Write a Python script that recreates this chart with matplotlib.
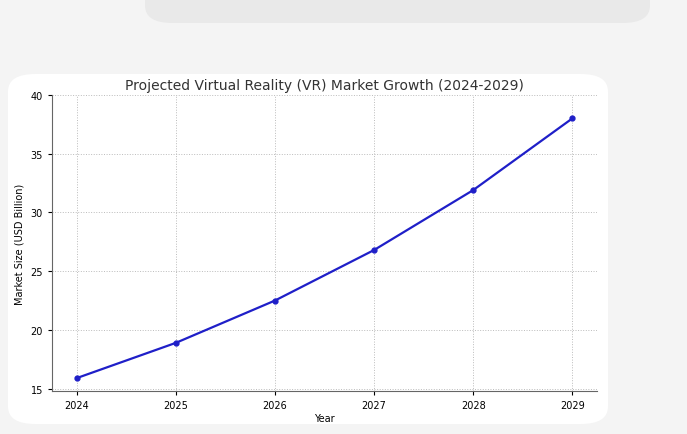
import matplotlib
matplotlib.use('Agg')
import matplotlib.pyplot as plt
from matplotlib.patches import FancyBboxPatch

# Data
years = [2024, 2025, 2026, 2027, 2028, 2029]
market_size = [15.9, 18.9, 22.5, 26.8, 31.9, 38.0]
y_ticks = [15, 20, 25, 30, 35, 40]

fig = plt.figure(figsize=(6.87, 4.35), dpi=100)
fig.patch.set_facecolor('#f4f4f4')

# page decorations: grey box at top, white card behind chart
fig.patches.append(FancyBboxPatch((145 / 687, 1 - 24 / 435), 505 / 687, 40 / 435,
                                  boxstyle='round,pad=0,rounding_size=0.04',
                                  transform=fig.transFigure, fc='#e9e9e9', ec='none', zorder=-5))
fig.patches.append(FancyBboxPatch((8 / 687, 1 - 425 / 435), 600 / 687, 350 / 435,
                                  boxstyle='round,pad=0,rounding_size=0.04',
                                  transform=fig.transFigure, fc='white', ec='none', zorder=-5))

ax = fig.add_axes([52 / 687, 1 - 392 / 435, 545 / 687, 296 / 435], zorder=1)
ax.plot(years, market_size, color='#1f1fc8', marker='o', markersize=3.5, linewidth=1.6)
ax.set_title('Projected Virtual Reality (VR) Market Growth (2024-2029)', fontsize=10, color='#333333', pad=4)
ax.set_xlabel('Year', fontsize=7, labelpad=2)
ax.set_ylabel('Market Size (USD Billion)', fontsize=7, labelpad=4)
ax.set_xticks(years)
ax.set_yticks(y_ticks)
ax.set_ylim(14.8, 40)
ax.set_xlim(2023.75, 2029.25)
ax.tick_params(labelsize=7, length=3)
ax.grid(True, linestyle=':', linewidth=0.7, color='#bbbbbb')
for side in ['top', 'right']:
    ax.spines[side].set_visible(False)
ax.spines['left'].set_color('#666666')
ax.spines['bottom'].set_color('#666666')

fig.savefig('out.png', dpi=100)
